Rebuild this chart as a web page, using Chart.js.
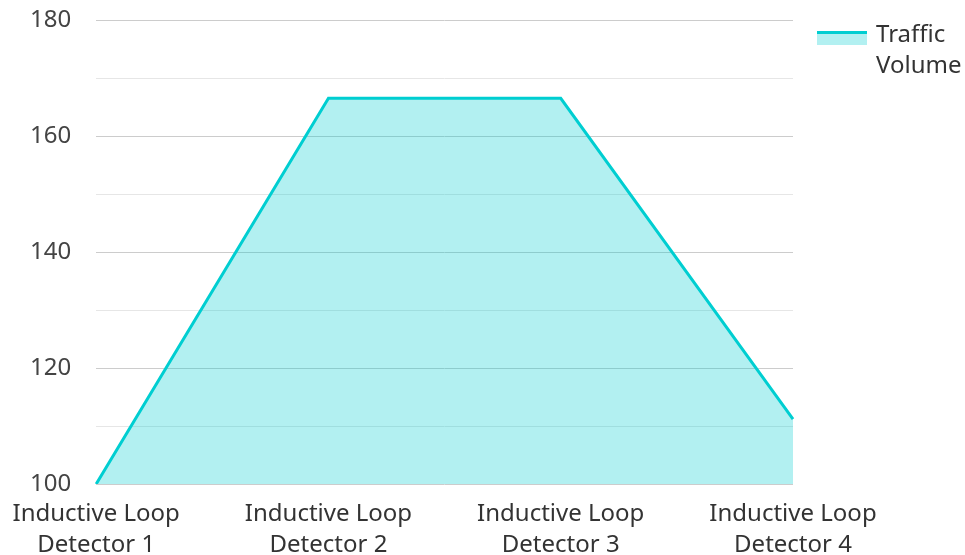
<!DOCTYPE html>
<html>
<head>
<meta charset="utf-8">
<script src="https://cdn.jsdelivr.net/npm/chart.js@4/dist/chart.umd.min.js"></script>
<style>
  html, body { margin: 0; padding: 0; background: #ffffff; }
  #wrap { width: 965px; height: 555px; }
</style>
</head>
<body>
<div id="wrap"><canvas id="chart"></canvas></div>
<script>
// Detector names (two-line tick labels)
const categories = [
  ['Inductive Loop', 'Detector 1'],
  ['Inductive Loop', 'Detector 2'],
  ['Inductive Loop', 'Detector 3'],
  ['Inductive Loop', 'Detector 4']
];
// Traffic volume per detector
const trafficVolume = [100, 166.5, 166.5, 111.2];
const seriesName = 'Traffic Volume';
const legendLines = ['Traffic', 'Volume'];

const LINE_COLOR = '#00ced1';
const FILL_COLOR = 'rgba(0, 206, 209, 0.30)';
const FONT = "'Noto Sans', 'Open Sans', sans-serif";
const CLEAR = 'rgba(0,0,0,0)';
const LEGEND_WIDTH = 172;

// Legend swatch: a thick line on top of a light filled band
function makeSwatch() {
  const c = document.createElement('canvas');
  c.width = 60; c.height = 30;
  const g = c.getContext('2d');
  g.fillStyle = FILL_COLOR;
  g.fillRect(8, 14, 50, 11);
  g.fillStyle = LINE_COLOR;
  g.fillRect(8, 11, 50, 3);
  return c;
}
const swatch = makeSwatch();

// Give the right-hand legend a fixed column width so the wrapped label has room
const legendWidthPlugin = {
  id: 'legendWidth',
  beforeLayout(chart) {
    const lg = chart.legend;
    if (lg && !lg.__fixedWidth) {
      const baseFit = lg.fit;
      lg.fit = function () {
        baseFit.call(this);
        this.width = LEGEND_WIDTH;
      };
      lg.__fixedWidth = true;
    }
  }
};

new Chart(document.getElementById('chart'), {
  type: 'line',
  data: {
    labels: categories,
    datasets: [{
      label: seriesName,
      data: trafficVolume,
      borderColor: LINE_COLOR,
      backgroundColor: FILL_COLOR,
      borderWidth: 3,
      fill: 'origin',
      tension: 0,
      pointRadius: 0,
      pointHoverRadius: 0
    }]
  },
  plugins: [legendWidthPlugin],
  options: {
    responsive: true,
    maintainAspectRatio: false,
    animation: false,
    layout: { padding: { left: 30, top: 0, right: 0, bottom: 0 } },
    plugins: {
      tooltip: { enabled: false },
      legend: {
        position: 'right',
        align: 'start',
        title: { display: true, text: '', padding: 0, font: { size: 2, lineHeight: 1 } },
        labels: {
          font: { family: FONT, size: 24, lineHeight: 31 / 24 },
          color: '#333333',
          padding: 21,
          usePointStyle: true,
          pointStyleWidth: 50,
          generateLabels: (chart) => {
            const ds = chart.data.datasets[0];
            return [{
              text: legendLines,
              pointStyle: swatch,
              fillStyle: ds.backgroundColor,
              strokeStyle: ds.borderColor,
              lineWidth: 0,
              fontColor: '#333333',
              datasetIndex: 0,
              hidden: false
            }];
          }
        }
      }
    },
    scales: {
      x: {
        offset: false,
        grid: { display: true, color: CLEAR, drawTicks: true, tickLength: 15, tickColor: CLEAR },
        border: { display: false },
        ticks: {
          autoSkip: false,
          maxRotation: 0,
          padding: 0,
          color: '#333333',
          font: { family: FONT, size: 24, lineHeight: 31 / 24 }
        },
        afterFit: (scale) => { scale.height = 71; }
      },
      y: {
        min: 100,
        max: 180,
        border: { display: false },
        grid: {
          drawTicks: true,
          tickLength: 25,
          tickColor: CLEAR,
          lineWidth: 1,
          color: (ctx) => (ctx.tick && ctx.tick.value % 20 === 0) ? '#cccccc' : '#e6e6e6'
        },
        ticks: {
          stepSize: 10,
          padding: 0,
          color: '#444444',
          font: { family: FONT, size: 24, lineHeight: 40 / 24 },
          callback: (v) => (v % 20 === 0 ? String(v) : '')
        }
      }
    }
  }
});
</script>
</body>
</html>
